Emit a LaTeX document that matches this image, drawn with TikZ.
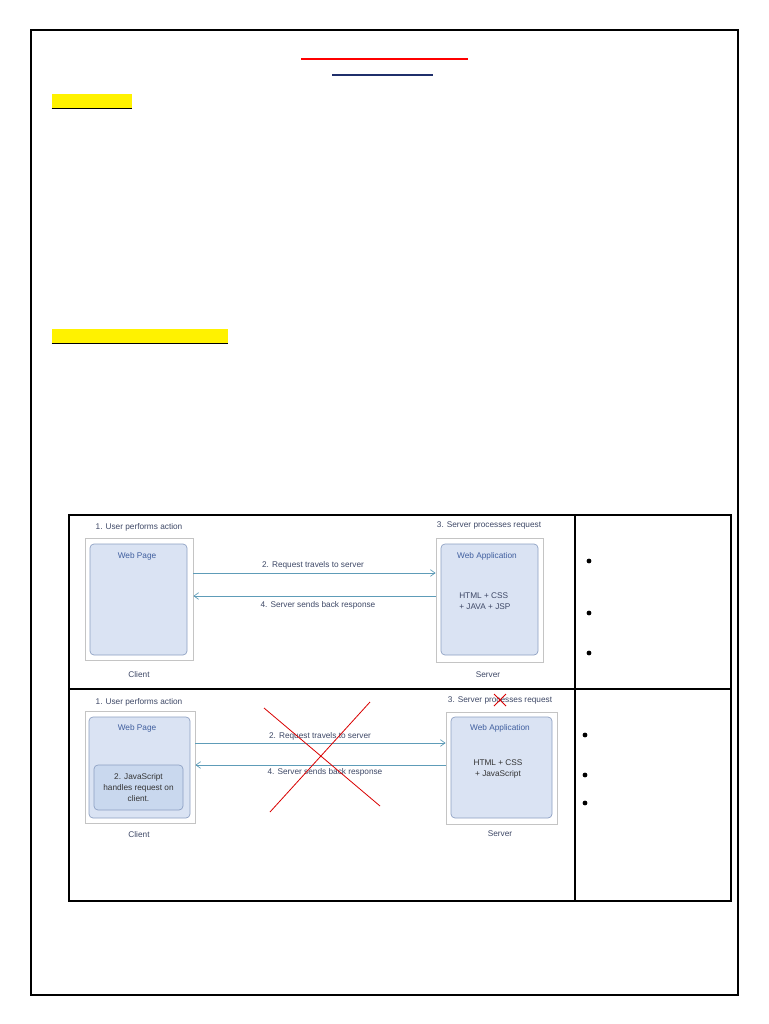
\documentclass[tikz,border=0pt]{standalone}
\usepackage{fontspec}
\setmainfont{Liberation Sans}
\usetikzlibrary{arrows.meta,fit}
\definecolor{txt}{HTML}{3E4866}
\definecolor{wptxt}{HTML}{3F5E9E}
\definecolor{inner}{HTML}{DAE3F3}
\definecolor{innerbd}{HTML}{8C9FC2}
\definecolor{jsfill}{HTML}{C9D8EE}
\definecolor{outerbd}{HTML}{C4C4C4}
\definecolor{arrowc}{HTML}{5E9CB8}
\definecolor{navyline}{HTML}{1F2F6B}
\tikzset{
  lbl/.style={font=\fontsize{6.2}{7.2}\selectfont, text=txt, inner sep=0pt},
  wplbl/.style={font=\fontsize{6.2}{7.2}\selectfont, text=wptxt, inner sep=0pt},
  outerbox/.style={draw=outerbd, fill=white, line width=0.6pt, inner sep=0pt},
  innerbox/.style={draw=innerbd, fill=inner, rounded corners=3pt, line width=0.5pt, inner sep=0pt},
  jsbox/.style={draw=innerbd, fill=jsfill, rounded corners=3pt, line width=0.5pt, inner sep=0pt},
  arr/.style={draw=arrowc, line width=0.5pt, -{Straight Barb[length=3.5pt,width=5pt]}},
  bul/.style={circle, fill=black, inner sep=0pt, minimum size=3.6pt},
  redx/.style={draw=red!85!black, line width=0.6pt},
  tline/.style={draw=black, line width=1pt}
}
\begin{document}
\begin{tikzpicture}[x=0.75pt,y=-0.75pt]
\useasboundingbox[fill=white] (0,0) rectangle (768,1024);
% page frame
\draw[line width=0.8pt] (31,30) rectangle (738,995);
% title lines
\draw[red, line width=1.6pt] (301,59) -- (468,59);
\draw[navyline, line width=1.4pt] (332,75) -- (433,75);
% yellow headings
\node[fill=yellow, inner sep=0pt, fit={(52,94) (132,109)}] (h1) {};
\draw[line width=1pt] (h1.south west) ++(0,-1) -- ++(80,0);
\node[fill=yellow, inner sep=0pt, fit={(52,329) (228,344)}] (h2) {};
\draw[line width=1pt] (h2.south west) ++(0,-1) -- ++(176,0);

% table
\draw[tline] (69,515) rectangle (731,901);
\draw[tline] (575,515) -- (575,901);
\draw[tline] (69,689) -- (731,689);

% ---------- top row ----------
\node[lbl] (u1) at (139,527) {1. User performs action};
\node[outerbox, fit={(85,538) (193,660)}] (c1o) {};
\node[innerbox, fit={(90,544) (187,655)}] (c1i) {};
\node[wplbl] (wp1) at (137,556) {Web Page};
\node[lbl] (cl1) at (139,675) {Client};

\node[lbl] (s3a) at (489,525) {3. Server processes request};
\node[outerbox, fit={(436,538) (543,662)}] (s1o) {};
\node[innerbox, fit={(441,544) (538,655)}] (s1i) {};
\node[wplbl] (wa1) at (487,556) {Web Application};
\node[lbl, anchor=west, align=left, font=\fontsize{6.2}{8}\selectfont] (h1t) at (459,601) {HTML + CSS\\+ JAVA + JSP};
\node[lbl] (sv1) at (488,675) {Server};

\draw[arr] (c1o.east |- 0,573) -- (s1o.west |- 0,573);
\draw[arr] (s1o.west |- 0,596) -- (c1o.east |- 0,596);
\node[lbl] (r1) at (313,565) {2. Request travels to server};
\node[lbl] (b1) at (318,605) {4. Server sends back response};

\node[bul] (p1) at (589,561) {};
\node[bul] (p2) at (589,613) {};
\node[bul] (p3) at (589,653) {};

% ---------- bottom row ----------
\node[lbl] (u2) at (139,702) {1. User performs action};
\node[outerbox, fit={(85,711) (195,823)}] (c2o) {};
\node[innerbox, fit={(89,717) (190,818)}] (c2i) {};
\node[wplbl] (wp2) at (137,728) {Web Page};
\node[jsbox, fit={(94,765) (183,810)}] (js) {};
\node[lbl, align=center, font=\fontsize{6.2}{8}\selectfont, text=black!80] (jst) at (js.center) {2. JavaScript\\handles request on\\client.};
\node[lbl] (cl2) at (139,835) {Client};

\node[lbl] (s3b) at (500,700) {3. Server processes request};
\node[outerbox, fit={(446,712) (557,824)}] (s2o) {};
\node[innerbox, fit={(451,717) (552,818)}] (s2i) {};
\node[wplbl] (wa2) at (500,728) {Web Application};
\node[lbl, align=center, font=\fontsize{6.2}{8}\selectfont, text=black!80] (h2t) at (498,769) {HTML + CSS\\+ JavaScript};
\node[lbl] (sv2) at (500,834) {Server};

\draw[arr] (c2o.east |- 0,743) -- (s2o.west |- 0,743);
\draw[arr] (s2o.west |- 0,765) -- (c2o.east |- 0,765);
\node[lbl] (r2) at (320,736) {2. Request travels to server};
\node[lbl] (b2) at (325,772) {4. Server sends back response};

% red crosses
\draw[redx] (264,708) -- (380,806);
\draw[redx] (370,702) -- (270,812);
\draw[redx] (494,694) -- (506,706);
\draw[redx] (506,694) -- (494,706);

\node[bul] (q1) at (585,735) {};
\node[bul] (q2) at (585,775) {};
\node[bul] (q3) at (585,803) {};
\end{tikzpicture}
\end{document}
